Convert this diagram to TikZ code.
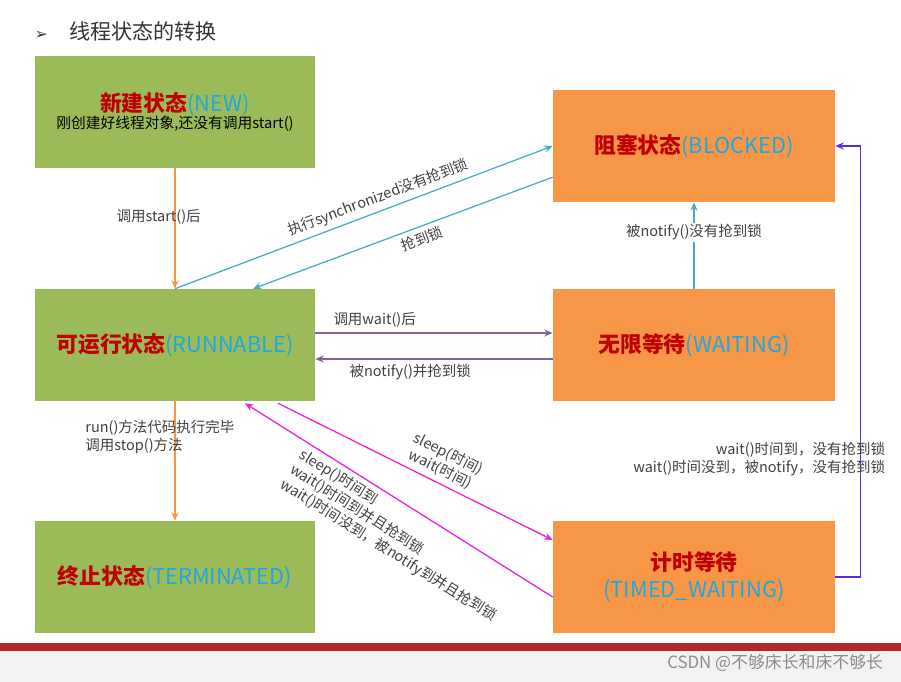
\documentclass[tikz,border=0pt]{standalone}
\usepackage{fontspec}
\setmainfont{Noto Sans CJK SC}
\newfontfamily\symfont{DejaVu Sans}
\usetikzlibrary{arrows.meta,positioning}
\definecolor{boxgreen}{HTML}{9BBB59}
\definecolor{boxorange}{HTML}{F79646}
\definecolor{titlered}{HTML}{C00000}
\definecolor{engblue}{HTML}{1FA8E0}
\definecolor{cyanline}{HTML}{4BACC6}
\definecolor{purpline}{HTML}{8064A2}
\definecolor{magline}{HTML}{E81EE0}
\definecolor{violine}{HTML}{5A2BE0}
\definecolor{barred}{HTML}{B0282A}
\tikzset{
  state/.style  = {inner sep=0pt, align=center, minimum width=7cm, minimum height=2.8cm, font=\fontsize{10.5}{13}\selectfont},
  greenbox/.style = {state, fill=boxgreen},
  orangebox/.style = {state, fill=boxorange},
  lbl/.style = {font=\fontsize{10.3}{12.5}\selectfont, text=black!75},
  link/.style = {-{Stealth[length=6pt,width=5pt]}, line width=0.9pt}
}
\newcommand{\stname}[2]{{\fontsize{15.5}{18}\selectfont\bfseries\color{titlered}#1}{\fontsize{15.5}{18}\selectfont\color{engblue}(#2)}}
\begin{document}
\begin{tikzpicture}[x=0.025cm,y=-0.025cm]
\useasboundingbox (0,0) rectangle (901,682);

% title and footer
\node[anchor=west, font=\fontsize{15}{18}\selectfont, text=black!80] (ttl) at (30,31) {{\symfont\fontsize{11}{13}\selectfont ➢}\hspace{1em}线程状态的转换};
\fill[barred] (0,643) rectangle (901,651);
\fill[black!5] (0,651) rectangle (901,682);
\node[anchor=east, font=\fontsize{12}{14}\selectfont, text=black!45] (mark) at (888,663) {CSDN @不够床长和床不够长};

% states
\node[greenbox] (new) at (175,112) {\stname{新建状态}{NEW}\\[-1pt]刚创建好线程对象,还没有调用start()};
\node[orangebox, minimum width=7.05cm] (blk) at (694,146) {\stname{阻塞状态}{BLOCKED}};
\node[greenbox] (run) at (175,345) {\stname{可运行状态}{RUNNABLE}};
\node[orangebox, minimum width=7.05cm] (wait) at (694,345) {\stname{无限等待}{WAITING}};
\node[greenbox] (term) at (175,577) {\stname{终止状态}{TERMINATED}};
\node[orangebox, minimum width=7.05cm] (tim) at (694,577) {{\fontsize{15.5}{18}\selectfont\bfseries\color{titlered}计时等待}\\[4pt]{\fontsize{15.5}{18}\selectfont\color{engblue}(TIMED\_WAITING)}};

% transitions
\draw[link, boxorange] (new) -- node[lbl, pos=0.4, left=-22pt] {调用start()后} (run);
\draw[link, cyanline] (run.north) -- node[lbl, sloped, above, pos=0.55] {执行synchronized没有抢到锁} (blk.west);
\draw[link, cyanline] ([yshift=-0.78cm]blk.west) -- node[lbl, sloped, below, pos=0.45] {抢到锁} ([xshift=1.95cm]run.north);
\draw[link, purpline] ([yshift=0.3cm]run.east) -- node[lbl, above, pos=0.25] {调用wait()后} ([yshift=0.3cm]wait.west);
\draw[link, purpline] ([yshift=-0.35cm]wait.west) -- node[lbl, below, pos=0.6] {被notify()并抢到锁} ([yshift=-0.35cm]run.east);
\draw[link, cyanline] (wait) -- node[lbl, pos=0.65, fill=white, inner sep=1pt] {被notify()没有抢到锁} (blk);
\draw[link, boxorange] (run) -- node[lbl, pos=0.3, align=left, left=-46pt] {run()方法代码执行完毕\\调用stop()方法} (term);
\draw[link, magline] ([xshift=2.575cm,yshift=-0.05cm]run.south) -- node[lbl, sloped, above, pos=0.57, align=center] {sleep(时间)\\wait(时间)} ([yshift=0.925cm]tim.west);
\draw[link, magline] ([yshift=-0.5cm]tim.west) -- node[lbl, sloped, below, pos=0.45, align=left] {sleep()时间到\\wait()时间到并且抢到锁\\wait()时间没到，被notify到并且抢到锁} ([xshift=1.75cm,yshift=-0.05cm]run.south);
\draw[link, violine] (tim.east) -- ++(25,0) coordinate (corner) |- (blk.east);
\node[lbl, anchor=east, align=right] (vlbl) at (890,459) {wait()时间到，没有抢到锁\\wait()时间没到，被notify，没有抢到锁};
\end{tikzpicture}
\end{document}
